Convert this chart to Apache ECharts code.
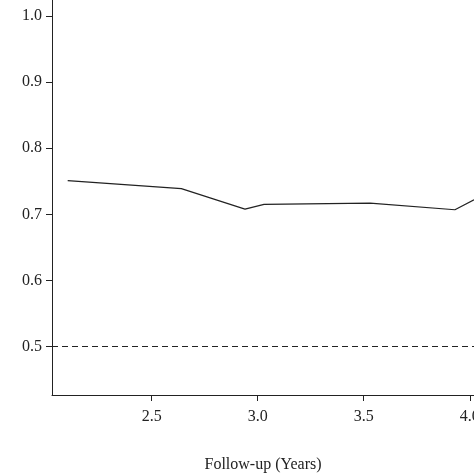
<!DOCTYPE html><html><head><meta charset="utf-8"><script src="https://cdn.jsdelivr.net/npm/echarts@6/dist/echarts.min.js"></script></head><body style="margin:0"><div id="c" style="width:474px;height:474px"></div><script>
const xVals=[2.104,2.64,2.94,3.03,3.53,3.93,4.02];
const yVals=[0.751,0.739,0.708,0.715,0.717,0.707,0.722];
const yTicks=[0.5,0.6,0.7,0.8,0.9,1.0];
const xTicks=[2.5,3.0,3.5,4.0];
const refY=0.5;
const f='Liberation Serif';
const c=echarts.init(document.getElementById('c'));
c.setOption({animation:false,grid:{left:52,right:0,top:0,bottom:79,outerBoundsMode:'none',containLabel:false},
xAxis:{type:'value',min:2.03,max:4.02,name:'Follow-up (Years)',nameLocation:'middle',nameGap:62,nameTextStyle:{fontFamily:f,fontSize:16,color:'#222'},
axisLine:{lineStyle:{color:'#222'}},splitLine:{show:false},axisTick:{customValues:xTicks,length:6,lineStyle:{color:'#222'}},
axisLabel:{customValues:xTicks,formatter:v=>v.toFixed(1),fontFamily:f,fontSize:16,color:'#222',margin:14}},
yAxis:{type:'value',min:0.427,max:1.024,axisLine:{show:true,lineStyle:{color:'#222'}},splitLine:{show:false},
axisTick:{customValues:yTicks,length:6,lineStyle:{color:'#222'}},
axisLabel:{customValues:yTicks,formatter:v=>v.toFixed(1),fontFamily:f,fontSize:16,color:'#222',margin:10}},
series:[{type:'line',data:xVals.map((x,i)=>[x,yVals[i]]),symbol:'none',lineStyle:{color:'#222',width:1.2},
markLine:{silent:true,symbol:'none',label:{show:false},lineStyle:{color:'#222',type:[6,4],width:1.2},data:[{yAxis:refY}]}}]});
</script></body></html>
